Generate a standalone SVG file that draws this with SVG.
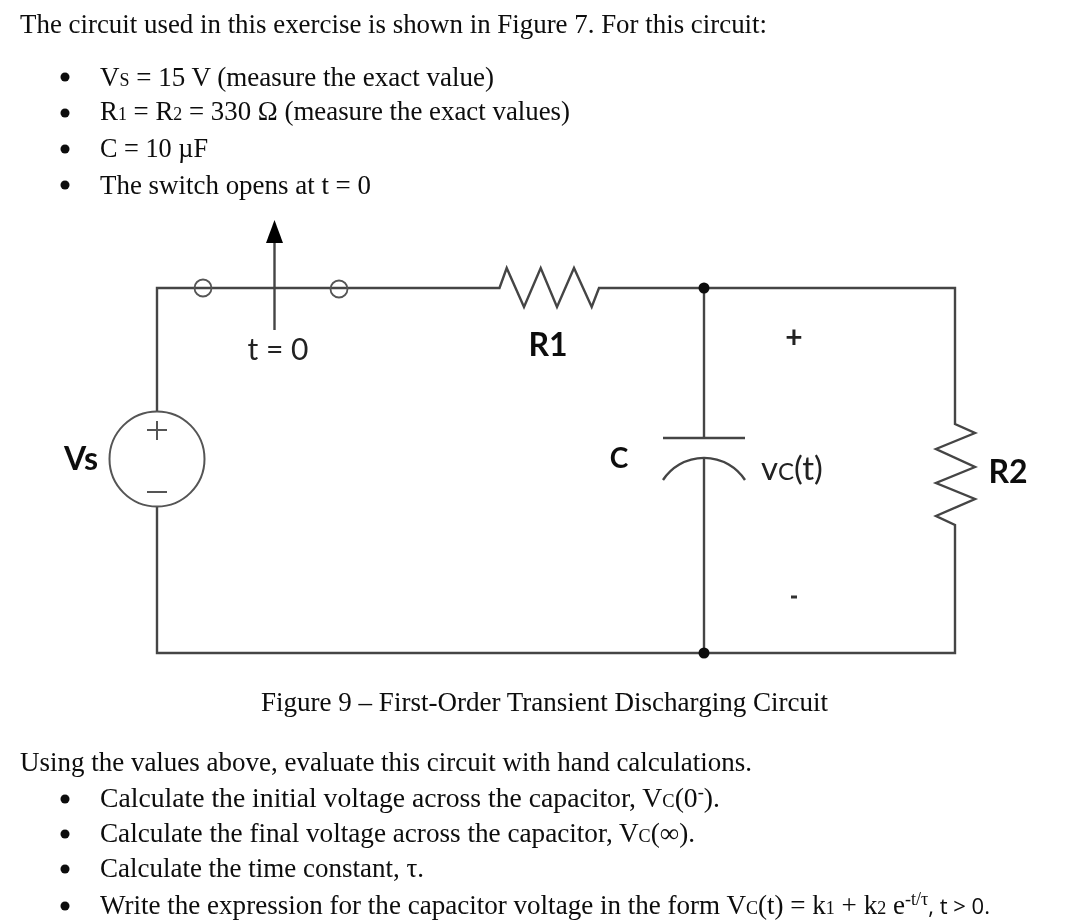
<svg xmlns="http://www.w3.org/2000/svg" width="1070" height="922" viewBox="0 0 1070 922">
<defs><filter id="soft" x="-5%" y="-5%" width="110%" height="110%"><feGaussianBlur stdDeviation="0.4"/></filter></defs>
<style>
.t{font-family:"Liberation Serif","Times New Roman",serif;font-size:27px;fill:#0a0a0a}
.s{font-size:18px}
.w{fill:none;stroke:#444;stroke-width:2.4;stroke-linejoin:miter}
.l{font-family:Lato,"Open Sans",sans-serif;fill:#222}
.b{font-family:Lato,"Open Sans",sans-serif;font-weight:700;font-size:32px;fill:#111}
.d{fill:#111}
</style>
<rect width="1070" height="922" fill="#fff"/>
<g filter="url(#soft)">
<g id="text-top">
<text class="t" x="20" y="33" textLength="747" lengthAdjust="spacingAndGlyphs">The circuit used in this exercise is shown in Figure 7. For this circuit:</text>
<circle class="d" cx="65" cy="77" r="4.5"/>
<text class="t" x="100" y="86" textLength="394" lengthAdjust="spacingAndGlyphs">V<tspan class="s">S</tspan> = 15 V (measure the exact value)</text>
<circle class="d" cx="65" cy="113" r="4.5"/>
<text class="t" x="100" y="120" textLength="470" lengthAdjust="spacingAndGlyphs">R<tspan class="s">1</tspan> = R<tspan class="s">2</tspan> = 330 Ω (measure the exact values)</text>
<circle class="d" cx="65" cy="149" r="4.5"/>
<text class="t" x="100" y="157" textLength="108" lengthAdjust="spacingAndGlyphs">C = 10 µF</text>
<circle class="d" cx="65" cy="185" r="4.5"/>
<text class="t" x="100" y="194" textLength="271" lengthAdjust="spacingAndGlyphs">The switch opens at t = 0</text>
</g>
<g id="connectors">
<path class="w" d="M157 411V288H194"/>
<path class="w" d="M194 288H348"/>
<path class="w" d="M348 288H499.500L506.700 268L524 307L540.700 268L557 307L574 268L591.700 307L599 288H704"/>
<path class="w" d="M704 288H955V424L975 433L936 449L975 467L936 483L975 499L936 516L955 525V653H704"/>
<path class="w" d="M704 653H157V507"/>
<path class="w" d="M704 288V438"/>
<path class="w" d="M704 458V653"/>
</g>
<g id="switch">
<circle cx="203" cy="288" r="8.500" fill="none" stroke="#555" stroke-width="1.800"/>
<circle cx="339" cy="289" r="8.500" fill="none" stroke="#555" stroke-width="1.800"/>
<path class="w" d="M274.500 330V240"/>
<path d="M274.500 220L283 243H266Z" fill="#000"/>
<text class="l" x="278" y="360" font-size="30" text-anchor="middle">t = 0</text>
</g>
<g id="source">
<circle cx="157" cy="459" r="47.500" fill="#fff" stroke="#555" stroke-width="2"/>
<path d="M147 430H167M157 421V440M147 492H167" fill="none" stroke="#555" stroke-width="2"/>
<text class="b" x="81" y="470" text-anchor="middle">Vs</text>
</g>
<g id="r1"><text class="b" x="548" y="356" text-anchor="middle">R1</text></g>
<g id="r2"><text class="b" x="1008" y="483" text-anchor="middle">R2</text></g>
<g id="capacitor">
<path class="w" d="M663 438H745"/>
<path class="w" d="M663 480A49 49 0 0 1 745 480"/>
<text class="b" x="619" y="468" text-anchor="middle" style="font-size:28px">C</text>
<text class="l" x="761" y="480" font-size="33">v<tspan font-size="24">C</tspan>(t)</text>
<text class="l" x="794" y="348" font-size="30" font-weight="700" text-anchor="middle">+</text>
<path d="M791 597H797" stroke="#333" stroke-width="3"/>
</g>
<g id="nodes">
<circle class="d" cx="704" cy="288" r="5.500"/>
<circle class="d" cx="704" cy="653" r="5.500"/>
</g>
<g id="text-bottom">
<text class="t" x="261" y="711" textLength="567" lengthAdjust="spacingAndGlyphs">Figure 9 – First-Order Transient Discharging Circuit</text>
<text class="t" x="20" y="771" textLength="732" lengthAdjust="spacingAndGlyphs">Using the values above, evaluate this circuit with hand calculations.</text>
<circle class="d" cx="65" cy="799" r="4.5"/>
<text class="t" x="100" y="807" textLength="620" lengthAdjust="spacingAndGlyphs">Calculate the initial voltage across the capacitor, V<tspan class="s">C</tspan>(0<tspan class="s" dy="-9">-</tspan><tspan dy="9">).</tspan></text>
<circle class="d" cx="65" cy="834" r="4.5"/>
<text class="t" x="100" y="842" textLength="595" lengthAdjust="spacingAndGlyphs">Calculate the final voltage across the capacitor, V<tspan class="s">C</tspan>(∞).</text>
<circle class="d" cx="65" cy="869" r="4.5"/>
<text class="t" x="100" y="877" textLength="324" lengthAdjust="spacingAndGlyphs">Calculate the time constant, τ.</text>
<circle class="d" cx="65" cy="906" r="4.5"/>
<text class="t" x="100" y="914" textLength="890" lengthAdjust="spacingAndGlyphs">Write the expression for the capacitor voltage in the form V<tspan class="s">C</tspan>(t) = k<tspan class="s">1</tspan> + k<tspan class="s">2</tspan> e<tspan class="s" dy="-9">-t/τ</tspan><tspan dy="9" font-family="Open Sans,sans-serif" font-size="22">, t &gt; 0.</tspan></text>
</g>
</g>
</svg>
